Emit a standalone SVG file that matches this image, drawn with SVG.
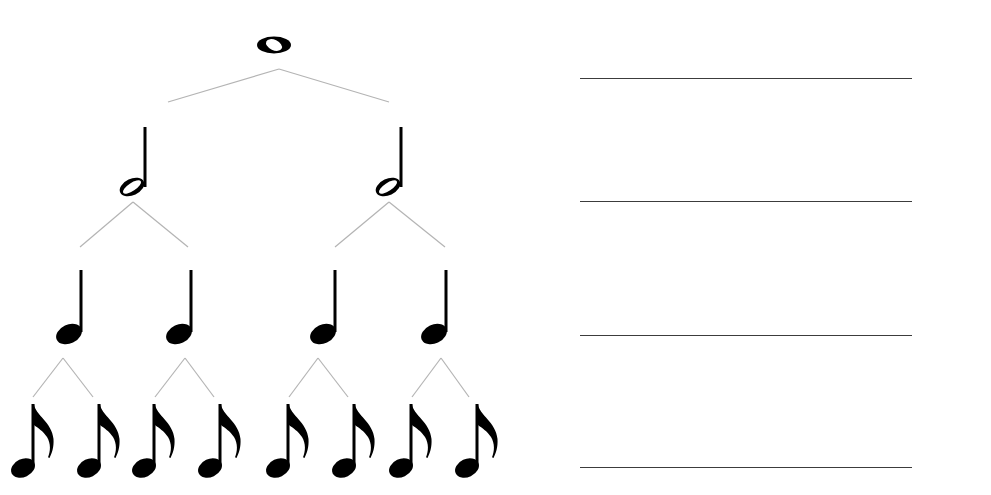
<svg xmlns="http://www.w3.org/2000/svg" xmlns:xlink="http://www.w3.org/1999/xlink" width="991" height="495" viewBox="0 0 991 495">
<style>
.conn line{stroke:#b4b4b4;stroke-width:1.2;fill:none}
.rule line{stroke:#3c3c3c;stroke-width:1}
.ink{fill:#000}
.hole{fill:#fff}
</style>
<defs>
<symbol id="whole" overflow="visible">
<ellipse class="ink" cx="0" cy="0" rx="17" ry="8.5"/>
<ellipse class="hole" cx="0" cy="0" rx="8.5" ry="5.2" transform="rotate(25)"/>
</symbol>
<symbol id="half" overflow="visible">
<rect class="ink" x="-1.5" y="0" width="3" height="60"/>
<g transform="translate(-13,60) rotate(-25)">
<ellipse class="ink" cx="0" cy="0" rx="13" ry="8.2"/>
<ellipse class="hole" cx="0" cy="0" rx="10.5" ry="4" transform="rotate(-8)"/>
</g>
</symbol>
<symbol id="quarter" overflow="visible">
<rect class="ink" x="-1.5" y="0" width="3" height="62"/>
<ellipse class="ink" cx="0" cy="0" rx="13.5" ry="9.5" transform="translate(-12,64) rotate(-25)"/>
</symbol>
<symbol id="eighth" overflow="visible">
<rect class="ink" x="-1.5" y="0" width="3" height="62"/>
<ellipse class="ink" cx="0" cy="0" rx="12.5" ry="9" transform="translate(-10,64) rotate(-25)"/>
<path class="ink" d="M1,0 C2,11 19,18 20.5,35 C21,43 19,49 16.5,54 L15,53.3 C17.5,47 18,40 14,33 C10,27 5,24 1,21 Z"/>
</symbol>
</defs>
<rect width="991" height="495" fill="#fff"/>
<g id="connectors" class="conn">
<line x1="279" y1="69" x2="168" y2="102"/>
<line x1="279" y1="69" x2="389" y2="102"/>
<line x1="133" y1="202" x2="80" y2="247"/>
<line x1="133" y1="202" x2="188" y2="247"/>
<line x1="389" y1="202" x2="335" y2="247"/>
<line x1="389" y1="202" x2="445" y2="247"/>
<line x1="63" y1="358" x2="33" y2="397"/>
<line x1="63" y1="358" x2="93" y2="397"/>
<line x1="185" y1="358" x2="155" y2="397"/>
<line x1="185" y1="358" x2="214" y2="397"/>
<line x1="318" y1="358" x2="289" y2="397"/>
<line x1="318" y1="358" x2="348" y2="397"/>
<line x1="441" y1="358" x2="412" y2="397"/>
<line x1="441" y1="358" x2="469" y2="397"/>
</g>
<g id="whole-note"><use xlink:href="#whole" x="274" y="45"/></g>
<g id="half-1"><use xlink:href="#half" x="145" y="127"/></g>
<g id="half-2"><use xlink:href="#half" x="401" y="127"/></g>
<g id="quarter-1"><use xlink:href="#quarter" x="81" y="270"/></g>
<g id="quarter-2"><use xlink:href="#quarter" x="191" y="270"/></g>
<g id="quarter-3"><use xlink:href="#quarter" x="335" y="270"/></g>
<g id="quarter-4"><use xlink:href="#quarter" x="446" y="270"/></g>
<g id="eighth-1"><use xlink:href="#eighth" x="33" y="404"/></g>
<g id="eighth-2"><use xlink:href="#eighth" x="99" y="404"/></g>
<g id="eighth-3"><use xlink:href="#eighth" x="154" y="404"/></g>
<g id="eighth-4"><use xlink:href="#eighth" x="220" y="404"/></g>
<g id="eighth-5"><use xlink:href="#eighth" x="288" y="404"/></g>
<g id="eighth-6"><use xlink:href="#eighth" x="354" y="404"/></g>
<g id="eighth-7"><use xlink:href="#eighth" x="411" y="404"/></g>
<g id="eighth-8"><use xlink:href="#eighth" x="477" y="404"/></g>
<g id="answer-lines" class="rule">
<line x1="580" y1="78.5" x2="912" y2="78.5"/>
<line x1="580" y1="201.5" x2="912" y2="201.5"/>
<line x1="580" y1="335.5" x2="912" y2="335.5"/>
<line x1="580" y1="467.5" x2="912" y2="467.5"/>
</g>
</svg>
